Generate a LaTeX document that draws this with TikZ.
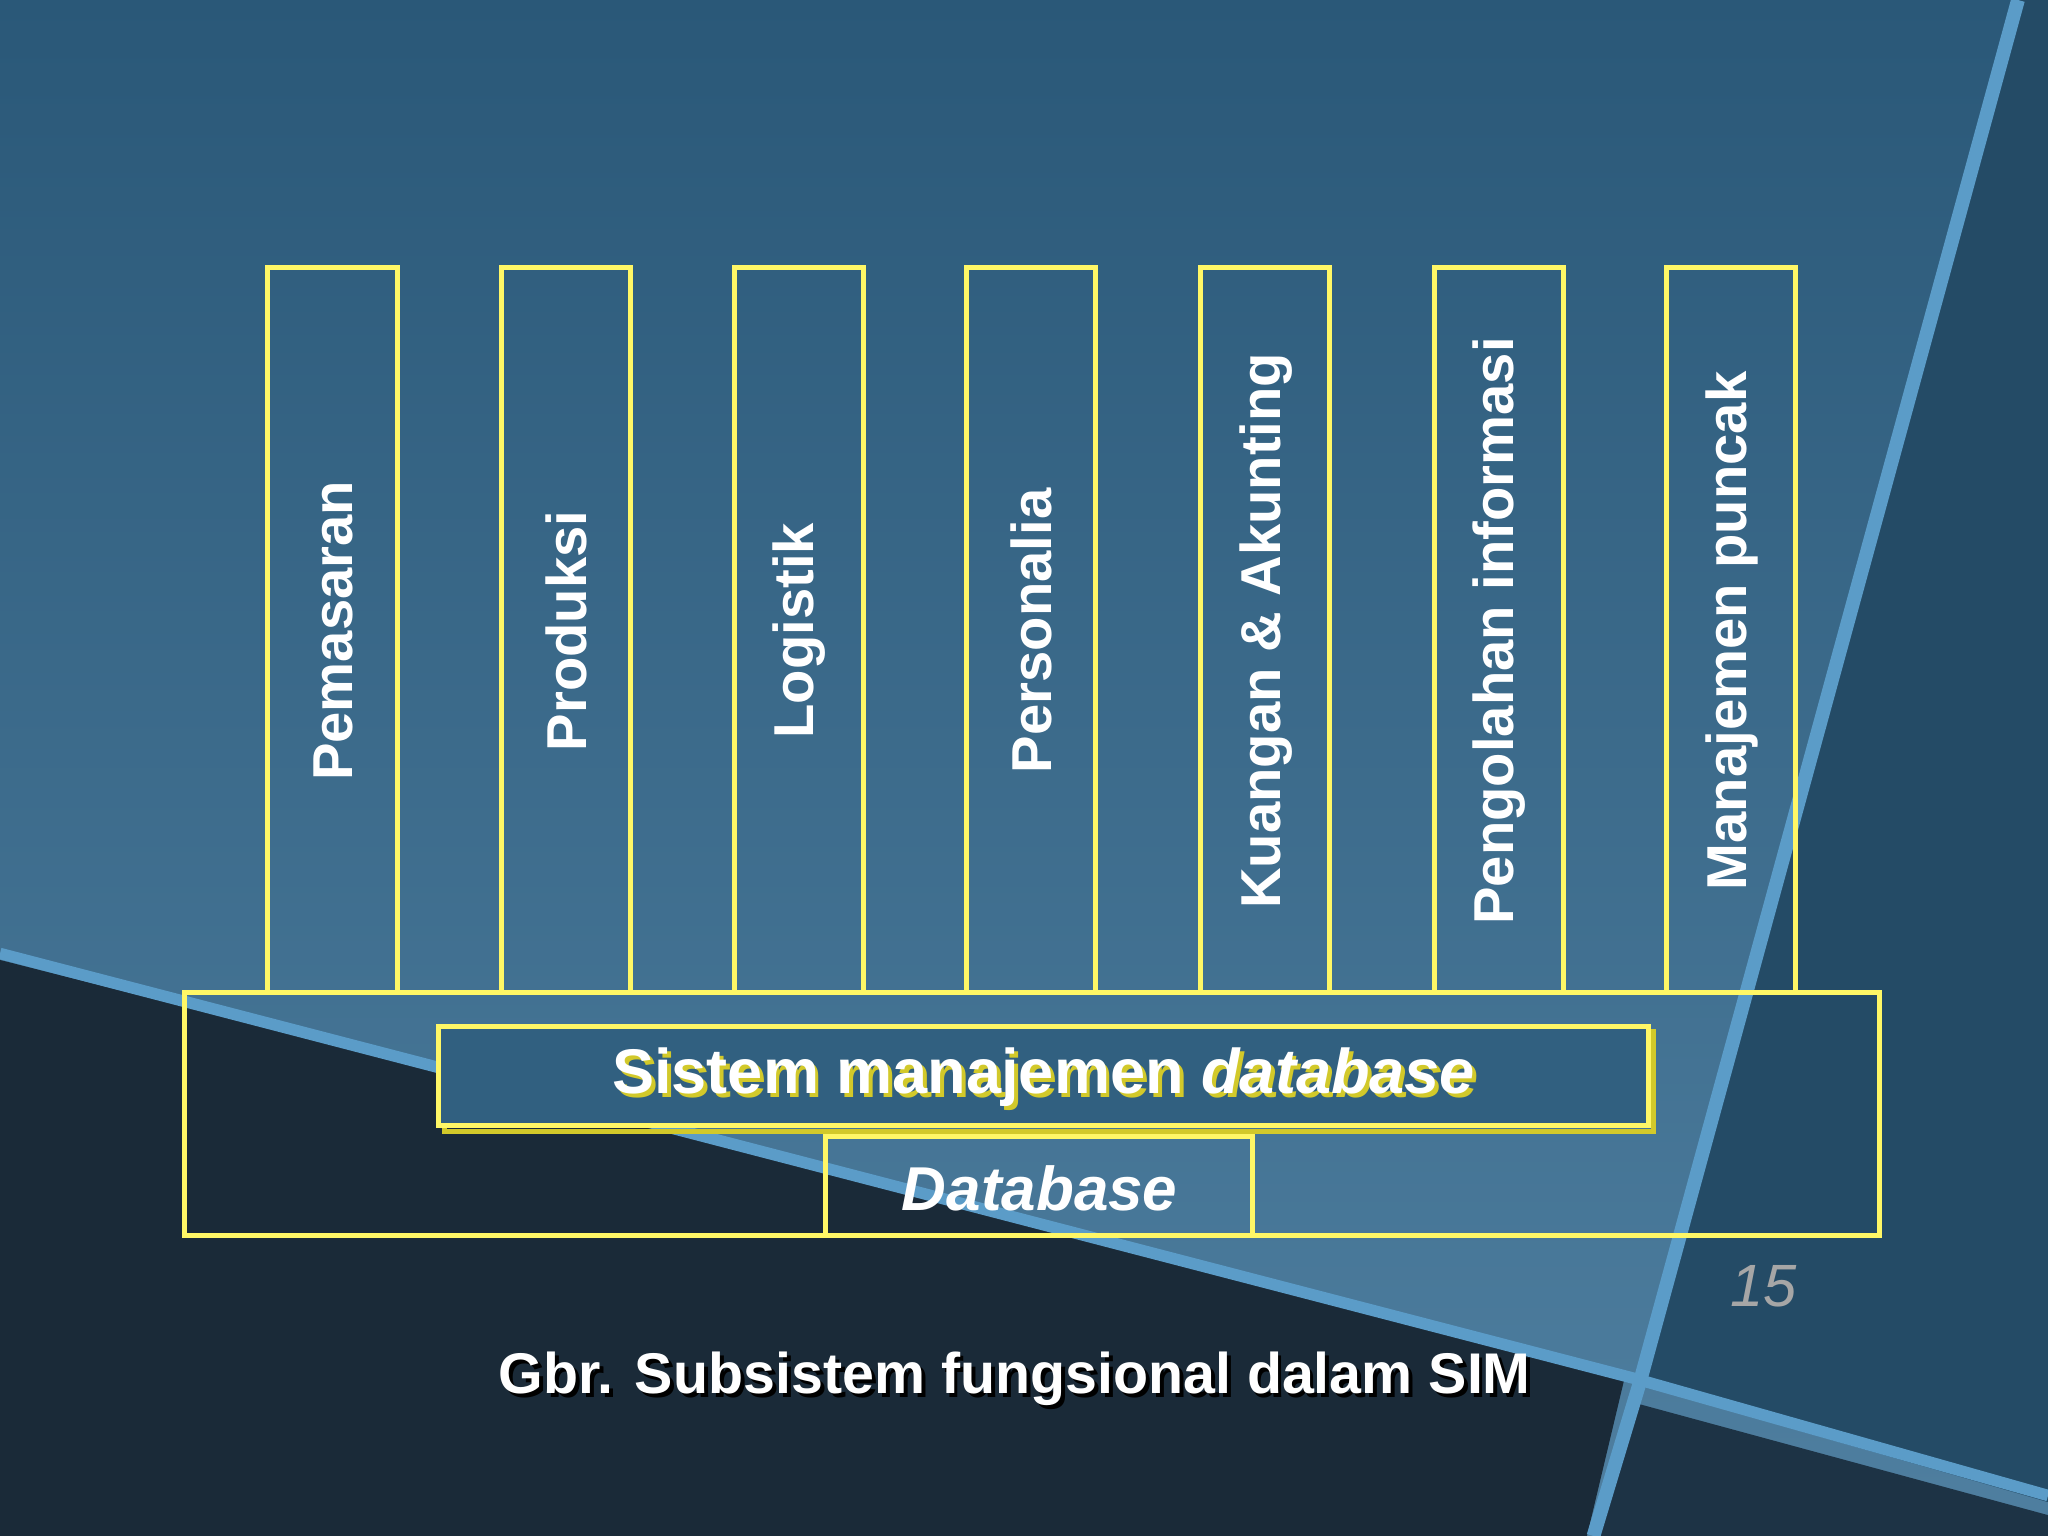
\documentclass[tikz,border=0pt]{standalone}
\usepackage{fontspec}
\setmainfont{Liberation Sans}
\begin{document}
\begin{tikzpicture}[x=0.02cm,y=-0.02cm,
  bar/.style={draw=yellow!60!white,line width=2.2pt},
  vlab/.style={rotate=90,text=white,font=\bfseries\fontsize{24.5}{24.5}\selectfont},
]
\definecolor{bgA}{HTML}{2A5878}
\definecolor{bgB}{HTML}{4F7FA0}
\definecolor{dark}{HTML}{1A2A38}
\definecolor{edge}{HTML}{5B9CC8}
\useasboundingbox (0,0) rectangle (1568,1176);
\shade[top color=bgA,bottom color=bgB] (0,0) rectangle (1568,1176);
\fill[bgA!85!black] (1545,0) -- (1568,0) -- (1568,1150) -- (1255,1060) -- cycle;
% dark bottom region
\fill[dark] (0,735) -- (1245,1050) -- (1215,1176) -- (0,1176) -- cycle;
\fill[dark!80!bgA] (1255,1075) -- (1568,1160) -- (1568,1176) -- (1225,1176) -- cycle;
\draw[edge,line width=5pt] (0,730) -- (1250,1055) -- (1568,1145);
\draw[edge,line width=6pt] (1545,0) -- (1255,1060) -- (1220,1176);
\node[text=gray!70!white,font=\itshape\fontsize{26}{26}\selectfont] (pg) at (1350,985) {15};
% bars
\foreach \x/\t [count=\i] in {205/Pemasaran,384/Produksi,562/Logistik,740/Personalia,919/Kuangan \& Akunting,1098/Pengolahan informasi,1276/Manajemen puncak}{
  \draw[bar] (\x,760) -- (\x,205) -- (\x+99,205) -- (\x+99,760);
  \node[vlab] (b\i) at (\x+50,483) {\t};
}
\draw[bar] (141,760) rectangle (1439,946);
\draw[draw=yellow!80!black,line width=2.2pt] (340,790) rectangle (1266,866);
\draw[bar,fill=bgA!80!bgB] (336,786) rectangle (1262,862);
\node[text=yellow!80!black,font=\bfseries\fontsize{27.5}{27.5}\selectfont] at (802,828) {Sistem manajemen \textit{database}};
\node[text=white,font=\bfseries\fontsize{27.5}{27.5}\selectfont] (smd) at (799,825) {Sistem manajemen \textit{database}};
\draw[bar] (632,946) -- (632,870) -- (959,870) -- (959,946);
\node[text=white,font=\bfseries\itshape\fontsize{27}{27}\selectfont] (db) at (796,910) {Database};
\node[text=black,font=\bfseries\fontsize{25}{25}\selectfont] at (780,1059) {Gbr. Subsistem fungsional dalam SIM};
\node[text=white,font=\bfseries\fontsize{25}{25}\selectfont] (cap) at (777,1056) {Gbr. Subsistem fungsional dalam SIM};
\end{tikzpicture}
\end{document}
